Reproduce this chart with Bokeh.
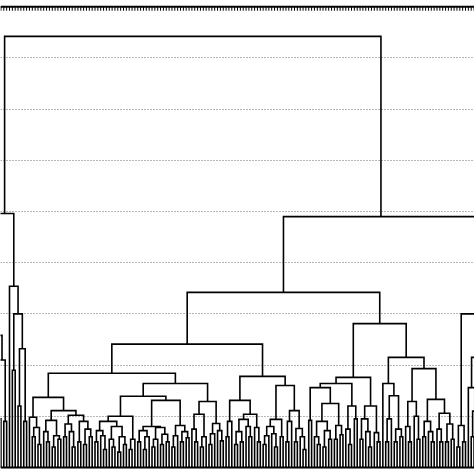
from bokeh.plotting import figure
from bokeh.models import Range1d, Span, Grid, FixedTicker
from bokeh.embed import file_html
from bokeh.resources import INLINE

# ---- data: dendrogram clusters as [merge_height, left, right]; 0 = a leaf ----
Z_left = [2.3, [1.1, [0.6, 0, 0], [0.5, 0, 0]], 0]
Z_right = [2.1, [0.95, [0.3, 0, 0], 0], [0.9, 0, 0]]
L_right = [3.54, 0, [3.0, [1.9, 0, 0], [2.32, [1.2, 0, 0], [0.9, 0, 0]]]]

P1 = [0.98, 0, [0.78, [0.6, 0, 0], [0.45, 0, 0]]]
P2a = [0.92, [0.7, 0, [0.5, 0, 0]], [0.62, [0.4, 0, 0], [0.55, 0, 0]]]
P2b = [1.02, [0.85, [0.6, 0, 0], [0.7, 0, [0.4, 0, 0]]],
       [0.9, [0.5, 0, 0], [0.75, [0.45, 0, 0], [0.6, 0, 0]]]]
Q1a = [1.0, [0.9, [0.72, [0.5, 0, 0], [0.62, 0, [0.35, 0, 0]]],
             [0.8, [0.55, 0, [0.4, 0, 0]], [0.6, [0.3, 0, 0], [0.45, 0, 0]]]],
       [0.55, [0.35, 0, 0], 0]]
Q1b = [1.31, [0.8, [0.72, [0.5, 0, 0], [0.6, [0.35, 0, 0], 0]],
              [0.78, [0.55, [0.4, 0, 0], 0], [0.65, [0.45, 0, 0], [0.5, 0, 0]]]],
       [0.82, [0.62, [0.4, 0, 0], 0], [0.7, [0.5, 0, 0], [0.58, 0, 0]]]]
Q2 = [1.29, [1.04, [0.75, 0, [0.5, 0, 0]], [0.6, [0.4, 0, 0], 0]],
      [0.86, [0.66, [0.45, 0, 0], 0], [0.72, 0, [0.52, 0, 0]]]]
C_left = [0.9, [0.6, 0, 0], 0]
C_right = [1.04, [0.94, [0.7, [0.45, 0, 0], [0.5, 0, 0]], [0.8, 0, [0.6, 0, 0]]],
           [0.78, 0, [0.5, 0, 0]]]
D_left = [0.94, [0.8, [0.62, [0.45, 0, 0], 0], [0.66, 0, [0.4, 0, 0]]], [0.6, 0, 0]]
D_right = [1.11, [0.9, [0.5, 0, 0], 0], [0.76, [0.5, 0, 0], [0.6, 0, [0.35, 0, 0]]]]
E1a = [1.56, [0.92, 0, 0],
       [1.25, [0.9, [0.6, 0, [0.45, 0, 0]], [0.72, [0.4, 0, 0], [0.55, 0, 0]]],
        [0.82, [0.55, 0, 0], [0.64, 0, 0]]]]
E1b = [1.2, [0.75, 0, [0.45, 0, 0]], [0.95, 0, 0]]
E2 = [1.2, [0.95, [0.55, 0, 0], [0.7, 0, [0.4, 0, 0]]], [0.68, 0, [0.5, 0, 0]]]
F1 = [1.64, 0, [1.4, [0.95, [0.5, 0, 0], 0], [0.75, [0.5, 0, 0], [0.6, 0, 0]]]]
F2 = [1.93, [1.29, [0.8, 0, [0.5, 0, 0]], [1.0, 0, [0.55, 0, 0]]],
      [1.33, [0.9, [0.6, 0, 0], [0.7, 0, [0.5, 0, 0]]],
       [1.06, [0.75, 0, [0.5, 0, 0]], [0.85, [0.5, 0, 0], [0.55, 0, 0]]]]]
B_left = [0.82, [0.4, 0, 0], [0.5, 0, 0]]
B_far = [1.8, [1.5, [1.2, [0.8, [0.5, 0, 0], [0.6, 0, 0]], [0.9, [0.4, 0, 0], [0.7, 0, 0]]],
               [1.1, [0.7, [0.5, 0, 0], 0], [0.85, 0, [0.45, 0, 0]]]],
         [1.6, [1.3, [0.9, [0.6, 0, 0], [0.5, 0, 0]], [1.0, [0.5, 0, 0], [0.7, 0, 0]]],
               [1.2, [0.8, 0, [0.5, 0, 0]], [0.9, [0.6, 0, 0], [0.4, 0, 0]]]]]
B_right = [2.15, [1.56, 0, [1.1, [0.6, 0, 0], 0]], B_far]

# upper merges
L = [4.96, [2.58, Z_left, Z_right], L_right]
P = [1.37, P1, [1.11, P2a, P2b]]
Q = [1.64, [1.39, Q1a, Q1b], Q2]
C = [1.31, C_left, C_right]
D = [1.6, D_left, D_right]
E = [1.76, [1.64, E1a, E1b], E2]
F = [2.15, F1, F2]
A = [3.42, [2.41, [1.84, P, Q], [1.78, C, D]], [2.81, E, F]]
B = [3.0, B_left, B_right]
root = [8.42, L, [4.9, A, B]]

grid_levels = [1, 2, 3, 4, 5, 6, 7, 8]
y_top = 9

# ---- layout ----
xs, ys, leaf_x = [], [], []


def n_leaves(node):
    return 1 if node == 0 else n_leaves(node[1]) + n_leaves(node[2])


def place(node):
    if node == 0:
        x = float(len(leaf_x))
        leaf_x.append(x)
        return x, 0.0
    h, left, right = node
    xl, hl = place(left)
    xr, hr = place(right)
    xs.append([xl, xl, xr, xr])
    ys.append([hl, h, h, hr])
    return (xl + xr) / 2.0, h


place(root)

# view window: the first leaf of L_right sits 9 px from the left edge, leaves 2.85 px apart
W = 474
spacing_px = 2.85
anchor_idx = n_leaves(Z_left) + n_leaves(Z_right)
x0 = anchor_idx - 9.0 / spacing_px
x1 = anchor_idx + (W - 9.0) / spacing_px

p = figure(width=W, height=W, output_backend="svg", toolbar_location=None,
           x_range=Range1d(x0, x1), y_range=Range1d(-0.137, 9.12),
           x_axis_location=None, y_axis_location=None, min_border=0)
p.outline_line_color = None
p.background_fill_color = "white"
p.grid.visible = False

g = Grid(dimension=1, ticker=FixedTicker(ticks=grid_levels),
         grid_line_color="#6e6e6e", grid_line_dash="1 2", grid_line_width=1)
p.add_layout(g)

p.multi_line(xs, ys, line_color="black", line_width=1.6, line_join="miter")

p.add_layout(Span(location=y_top, dimension="width", line_color="black", line_width=2))
p.add_layout(Span(location=0, dimension="width", line_color="black", line_width=2))
p.segment(x0=leaf_x, y0=[y_top] * len(leaf_x), x1=leaf_x, y1=[y_top - 0.08] * len(leaf_x),
          line_color="black", line_width=1)

open("out.html", "w").write(file_html(p, INLINE))
